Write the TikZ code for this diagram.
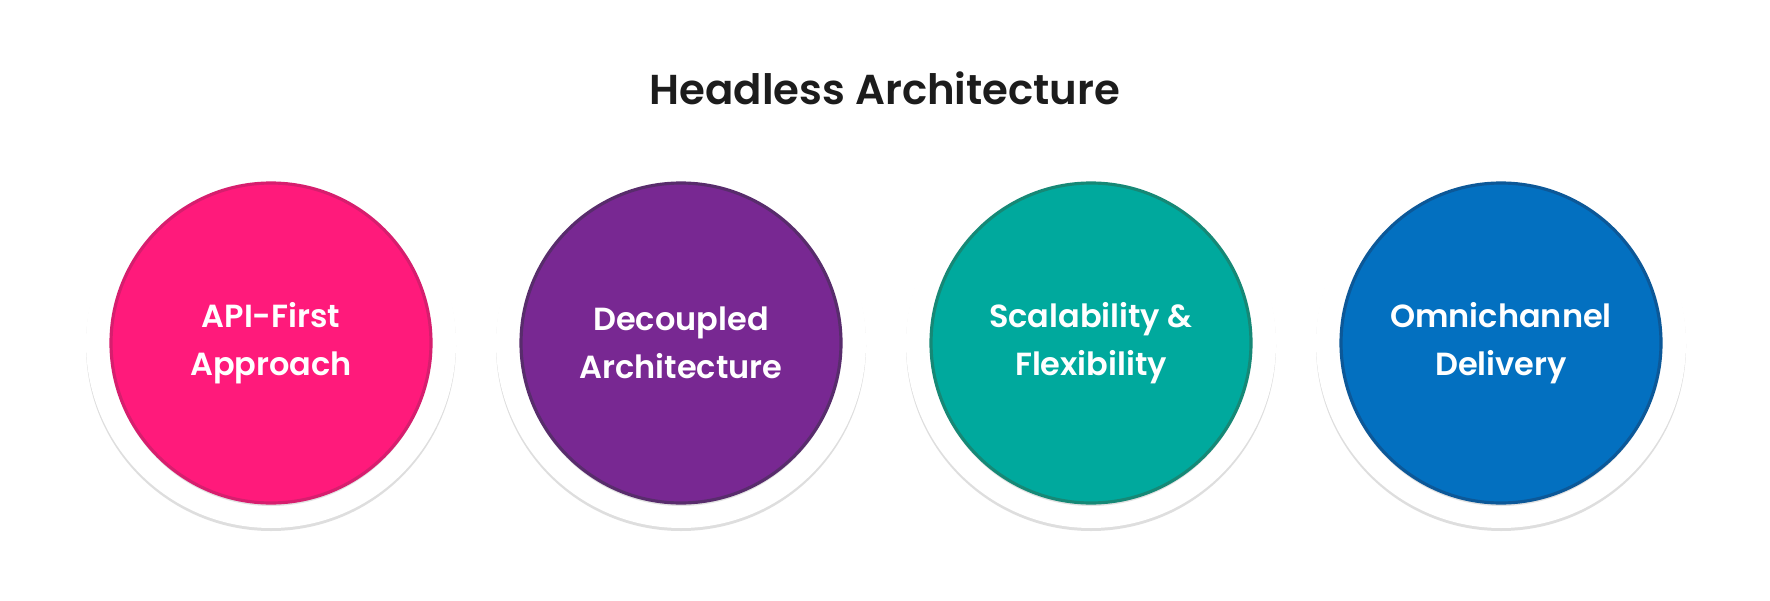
\documentclass[tikz,border=0pt]{standalone}
\usepackage{fontspec}
\setmainfont{Poppins}[BoldFont={Poppins SemiBold}]
\usepackage{xcolor}
\usetikzlibrary{backgrounds,calc,positioning}

\definecolor{apipink}{RGB}{255,26,123}
\definecolor{apiedge}{RGB}{214,30,110}
\definecolor{decpurple}{RGB}{120,40,146}
\definecolor{decedge}{RGB}{88,44,108}
\definecolor{scateal}{RGB}{0,169,157}
\definecolor{scaedge}{RGB}{22,136,118}
\definecolor{omniblue}{RGB}{3,112,192}
\definecolor{omniedge}{RGB}{12,88,152}
\definecolor{titlegray}{RGB}{28,28,28}
\definecolor{haloshade}{RGB}{222,222,222}

\begin{document}
\begin{tikzpicture}[
		halo/.style = {circle, minimum size=3.7cm, inner sep=0pt, fill=white},
		haloshadow/.style = {circle, minimum size=3.7cm, inner sep=0pt, fill=haloshade},
		pillar/.style = {circle, minimum size=3.2cm, inner sep=0pt, line width=0.9pt,
			text=white, align=center, font=\fontsize{9.1}{13.7}\selectfont\bfseries},
		pillarshadow/.style = {circle, minimum size=3.2cm, inner sep=0pt, fill=black!22}
	]
		\useasboundingbox (0,0) rectangle (17.7,6);
		\fill[white] (0,0) rectangle (17.7,6);

		% title
		\node[text=titlegray, font=\fontsize{11.9}{15}\selectfont\bfseries] (title) at (8.85,5.12) {Headless Architecture};

		% white halos with a soft shade underneath
		\node[haloshadow] (shadeA) at (2.71,2.54) {};
		\node[haloshadow] (shadeB) at (6.81,2.54) {};
		\node[haloshadow] (shadeC) at (10.91,2.54) {};
		\node[haloshadow] (shadeD) at (15.01,2.54) {};
		\node[halo] (haloA) at (2.71,2.57) {};
		\node[halo] (haloB) at (6.81,2.57) {};
		\node[halo] (haloC) at (10.91,2.57) {};
		\node[halo] (haloD) at (15.01,2.57) {};

		% coloured circles
		\node[pillarshadow, opacity=.5] (dropA) at (2.71,2.54) {};
		\node[pillarshadow, opacity=.5] (dropB) at (6.81,2.54) {};
		\node[pillarshadow, opacity=.5] (dropC) at (10.91,2.54) {};
		\node[pillarshadow, opacity=.5] (dropD) at (15.01,2.54) {};
		\node[pillar, fill=apipink, draw=apiedge] (api) at (haloA) {API-First\\Approach};
		\node[pillar, fill=decpurple, draw=decedge] (decoupled) at (haloB) {Decoupled\\Architecture};
		\node[pillar, fill=scateal, draw=scaedge] (scalability) at (haloC) {Scalability \&\\Flexibility};
		\node[pillar, fill=omniblue, draw=omniedge] (omni) at (haloD) {Omnichannel\\Delivery};
	\end{tikzpicture}
\end{document}
